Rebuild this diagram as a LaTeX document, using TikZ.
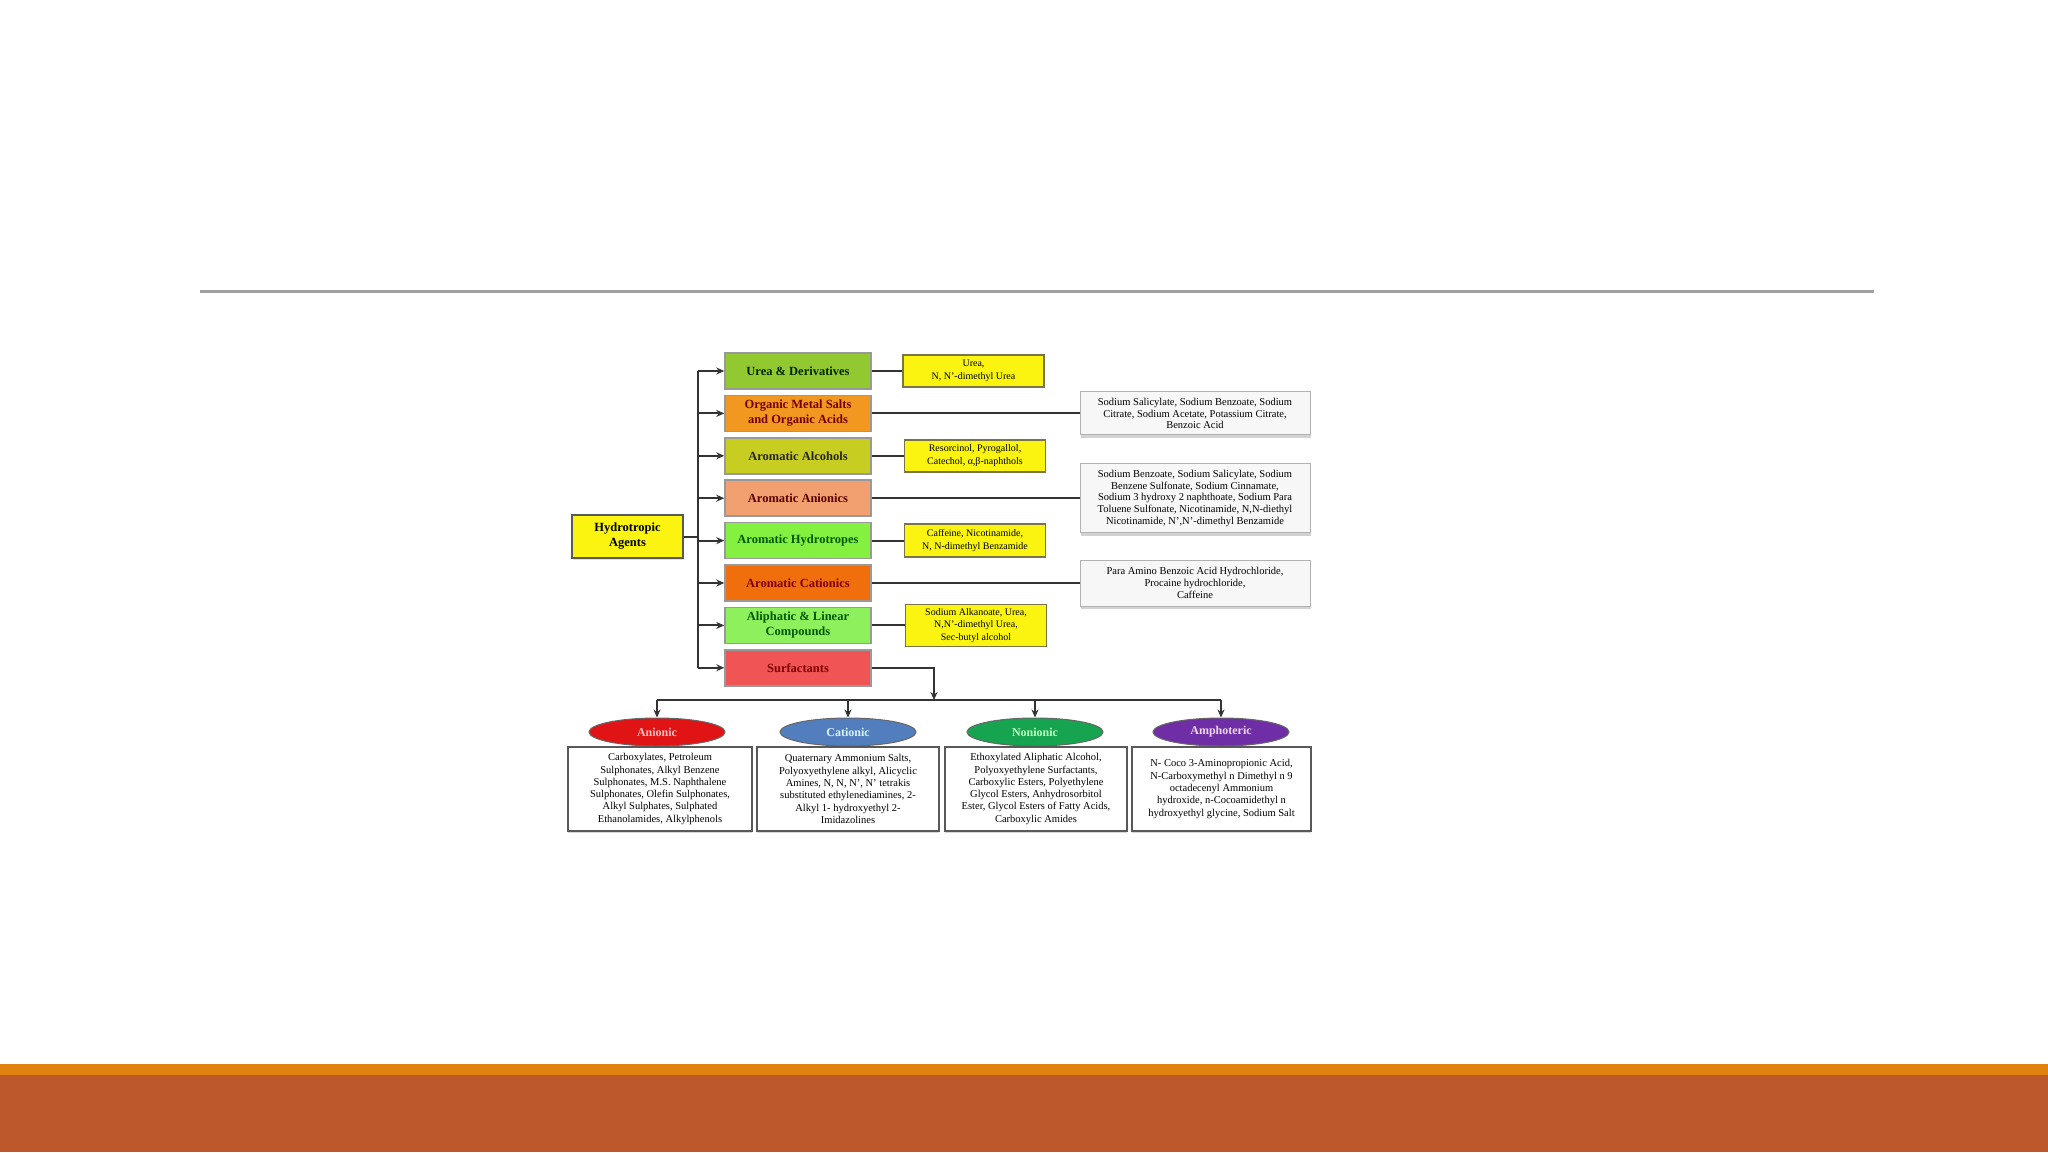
\documentclass[tikz,border=0pt]{standalone}
\usepackage{fontspec}
\setmainfont{Liberation Serif}
\usetikzlibrary{shapes.geometric,arrows.meta,shadows}

\definecolor{cUrea}{RGB}{146,200,48}
\definecolor{cOrg}{RGB}{242,152,32}
\definecolor{cAlc}{RGB}{200,205,34}
\definecolor{cAni}{RGB}{242,160,112}
\definecolor{cHyt}{RGB}{132,240,64}
\definecolor{cCat}{RGB}{240,110,12}
\definecolor{cAli}{RGB}{142,240,92}
\definecolor{cSurf}{RGB}{240,84,84}
\definecolor{cYel}{RGB}{250,244,16}
\definecolor{cRedK}{RGB}{224,20,20}
\definecolor{cBluK}{RGB}{82,126,190}
\definecolor{cGrnK}{RGB}{22,164,80}
\definecolor{cPurK}{RGB}{112,46,166}
\definecolor{cRule}{RGB}{160,160,160}
\definecolor{cOra}{RGB}{224,130,16}
\definecolor{cBrn}{RGB}{189,88,44}

\begin{document}
\begin{tikzpicture}[x=1pt, y=-1pt,
    cat/.style={rectangle, draw=black!40, line width=1.5pt, minimum width=146pt, minimum height=36pt, inner sep=1pt, align=center, font=\fontsize{12.5}{15}\selectfont\bfseries},
    ex/.style={rectangle, draw=black!60!yellow, fill=cYel, line width=1.5pt, minimum width=141pt, inner sep=3pt, align=center, font=\fontsize{10}{12.5}\selectfont},
    note/.style={rectangle, draw=black!30, fill=black!3, line width=1pt, minimum width=230pt, inner sep=3pt, align=center, font=\fontsize{10.5}{11.7}\selectfont, drop shadow={shadow xshift=1pt, shadow yshift=-3pt, fill=black!35}},
    kind/.style={ellipse, draw=black!60, line width=1pt, minimum width=136pt, minimum height=28pt, inner sep=0pt, font=\fontsize{12}{13}\selectfont\bfseries},
    sub/.style={rectangle, draw=black!65, fill=white, line width=1.5pt, minimum height=84pt, inner sep=2pt, align=center, font=\fontsize{10.5}{12.3}\selectfont, drop shadow={shadow xshift=0pt, shadow yshift=-2pt, fill=black!30}},
    link/.style={draw=black!80, line width=2pt},
    arr/.style={link, -{Stealth[length=8pt, width=7pt]}}
]
    \useasboundingbox (0,0) rectangle (2048,1152);
    \fill[white] (0,0) rectangle (2048,1152);

    % Slide frame
    \draw[cRule, line width=3pt] (200,291) -- (1874,291);
    \fill[cOra] (0,1064) rectangle (2048,1075);
    \fill[cBrn] (0,1075) rectangle (2048,1152);

    % Nodes
    \node[rectangle, draw=black!65, fill=cYel, line width=1.5pt, minimum width=111pt, minimum height=43pt, align=center, font=\fontsize{12.5}{15}\selectfont\bfseries, drop shadow={shadow xshift=1pt, shadow yshift=-2pt, fill=black!25}] at (627.5, 536.5) (hyd) {Hydrotropic\\Agents};

    \node[cat, fill=cUrea, text=black!85!green] at (798, 371) (urea) {Urea \& Derivatives};
    \node[cat, fill=cOrg, text=red!45!black] at (798, 413.4) (org) {Organic Metal Salts\\and Organic Acids};
    \node[cat, fill=cAlc, text=black!85] at (798, 455.8) (alc) {Aromatic Alcohols};
    \node[cat, fill=cAni, text=red!35!black] at (798, 498.2) (ani) {Aromatic Anionics};
    \node[cat, fill=cHyt, text=green!35!black] at (798, 540.6) (hyt) {Aromatic Hydrotropes};
    \node[cat, fill=cCat, text=red!50!black] at (798, 583) (catn) {Aromatic Cationics};
    \node[cat, fill=cAli, text=green!35!black] at (798, 625.4) (ali) {Aliphatic \& Linear\\Compounds};
    \node[cat, fill=cSurf, text=red!50!black] at (798, 667.8) (surf) {Surfactants};

    \node[ex, minimum height=32pt] at (973.5, 371) (urea-x) {Urea,\\N, N'-dimethyl Urea};
    \node[ex, minimum height=32pt] at (975, 455.8) (alc-x) {Resorcinol, Pyrogallol,\\Catechol, α,β-naphthols};
    \node[ex, minimum height=33pt] at (975, 540.6) (hyt-x) {Caffeine, Nicotinamide,\\N, N-dimethyl Benzamide};
    \node[ex, minimum height=42pt] at (976, 625.4) (ali-x) {Sodium Alkanoate, Urea,\\N,N'-dimethyl Urea,\\Sec-butyl alcohol};

    \node[note, minimum height=43pt] at (1195, 413.4) (org-x) {Sodium Salicylate, Sodium Benzoate, Sodium\\Citrate, Sodium Acetate, Potassium Citrate,\\Benzoic Acid};
    \node[note, minimum height=69pt] at (1195, 498.2) (ani-x) {Sodium Benzoate, Sodium Salicylate, Sodium\\Benzene Sulfonate, Sodium Cinnamate,\\Sodium 3 hydroxy 2 naphthoate, Sodium Para\\Toluene Sulfonate, Nicotinamide, N,N-diethyl\\Nicotinamide, N',N'-dimethyl Benzamide};
    \node[note, minimum height=46pt] at (1195, 583) (cat-x) {Para Amino Benzoic Acid Hydrochloride,\\Procaine hydrochloride,\\Caffeine};

    \node[kind, fill=cRedK, text=red!25!white] at (657, 732) (ak) {Anionic};
    \node[kind, fill=cBluK, text=cyan!15!white] at (848, 732) (ck) {Cationic};
    \node[kind, fill=cGrnK, text=green!25!white] at (1035, 732) (nk) {Nonionic};
    \node[kind, fill=cPurK, text=violet!15!white] at (1221, 732) (zk) {Amphoteric};

    \node[sub, minimum width=184pt] at (660, 789) (ak-x) {Carboxylates, Petroleum\\Sulphonates, Alkyl Benzene\\Sulphonates, M.S. Naphthalene\\Sulphonates, Olefin Sulphonates,\\Alkyl Sulphates, Sulphated\\Ethanolamides, Alkylphenols};
    \node[sub, minimum width=182pt] at (848, 789) (ck-x) {Quaternary Ammonium Salts,\\Polyoxyethylene alkyl, Alicyclic\\Amines, N, N, N', N' tetrakis\\substituted ethylenediamines, 2-\\Alkyl 1- hydroxyethyl 2-\\Imidazolines};
    \node[sub, minimum width=182pt] at (1036, 789) (nk-x) {Ethoxylated Aliphatic Alcohol,\\Polyoxyethylene Surfactants,\\Carboxylic Esters, Polyethylene\\Glycol Esters, Anhydrosorbitol\\Ester, Glycol Esters of Fatty Acids,\\Carboxylic Amides};
    \node[sub, minimum width=179pt] at (1221.5, 789) (zk-x) {N- Coco 3-Aminopropionic Acid,\\N-Carboxymethyl n Dimethyl n 9\\octadecenyl Ammonium\\hydroxide, n-Cocoamidethyl n\\hydroxyethyl glycine, Sodium Salt};

    \coordinate (trunk) at (698, 0);
    \coordinate (jn) at (934, 700);

    % Edges
    \draw[link] (hyd.east) -- (hyd -| trunk);
    \draw[link] (urea -| trunk) -- (surf -| trunk);
    \foreach \n in {urea, org, alc, ani, hyt, catn, ali, surf}
        \draw[arr] (\n -| trunk) -- (\n);

    \draw[link] (urea) -- (urea-x);
    \draw[link] (alc) -- (alc-x);
    \draw[link] (hyt) -- (hyt-x);
    \draw[link] (ali) -- (ali-x);
    \draw[link] (org) -- (org-x);
    \draw[link] (ani) -- (ani-x);
    \draw[link] (catn) -- (cat-x);

    \draw[arr] (surf.east) -| (jn);
    \draw[link] (ak |- jn) -- (zk |- jn);
    \foreach \k in {ak, ck, nk, zk}
        \draw[arr] (\k |- jn) -- (\k);

\end{tikzpicture}
\end{document}
